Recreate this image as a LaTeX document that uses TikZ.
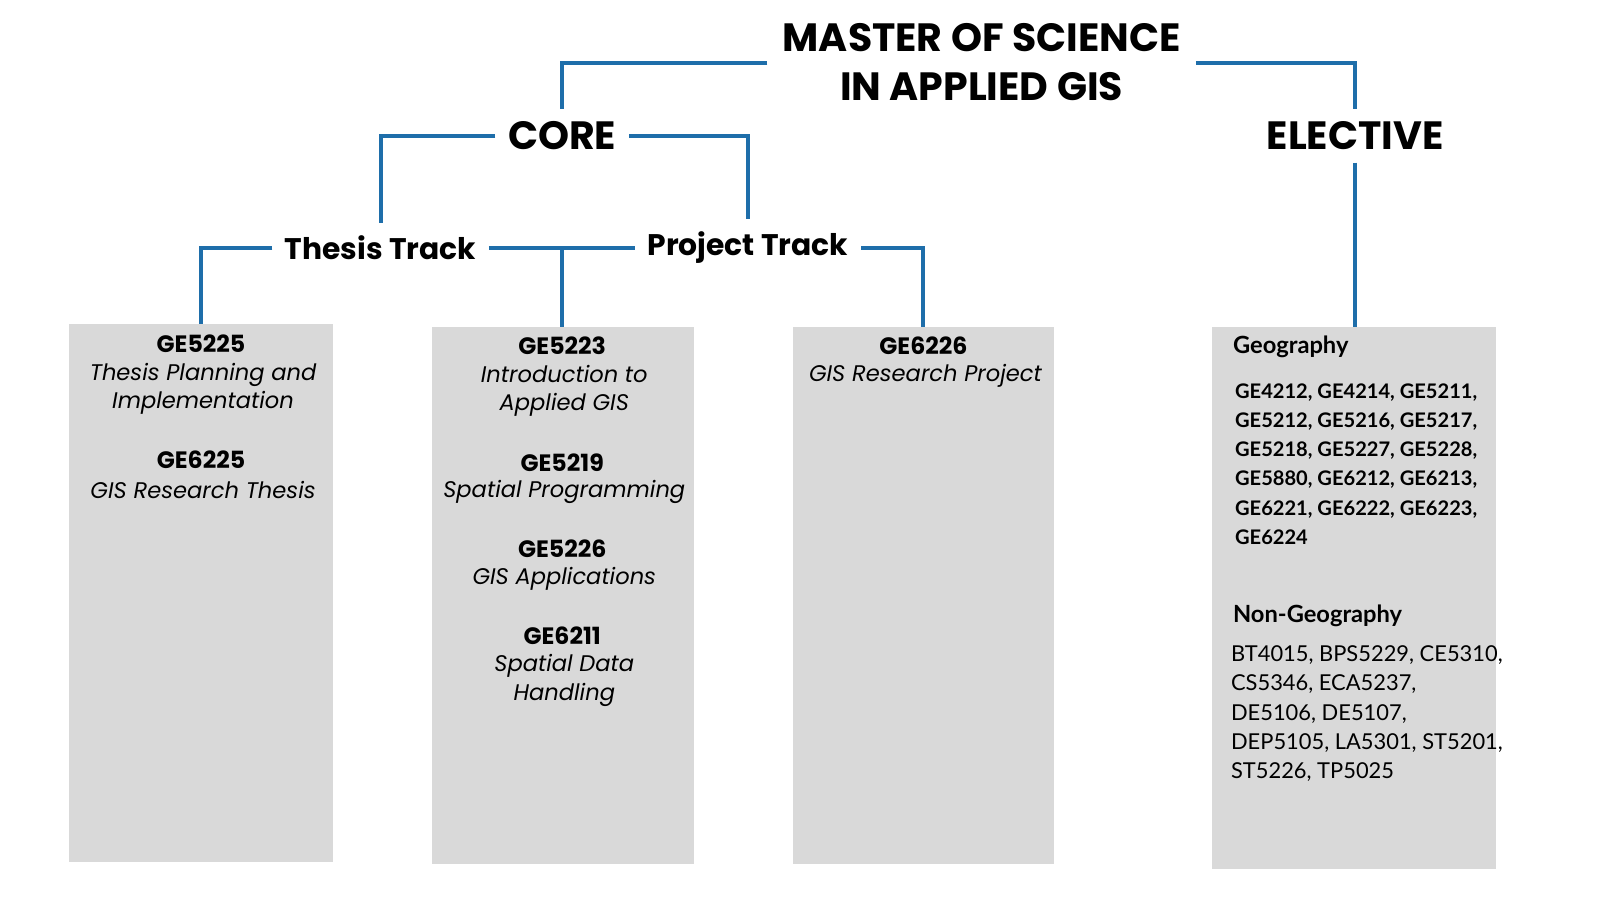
\documentclass[tikz,border=0pt]{standalone}
\usepackage{fontspec}
\setmainfont{Poppins}
\newfontfamily\gill{Lato}
\definecolor{lnk}{RGB}{30,110,170}
\definecolor{boxg}{RGB}{217,217,217}
\begin{document}
\begin{tikzpicture}[x=0.01cm,y=-0.01cm,
  ln/.style={draw=lnk,line width=1.1pt},
  bx/.style={fill=boxg,draw=none},
  hd/.style={font=\fontsize{11}{13.5}\selectfont\bfseries,align=center},
  tr/.style={font=\fontsize{8.3}{10}\selectfont\bfseries},
  cd/.style={font=\fontsize{6.6}{8}\selectfont\bfseries},
  nm/.style={font=\fontsize{6.3}{8}\selectfont\itshape,align=center},
  el/.style={align=left,anchor=north west}]
\useasboundingbox (0,0) rectangle (1568,882);
\fill[bx] (68,318) rectangle (326,845);
\fill[bx] (423,320) rectangle (680,847);
\fill[bx] (777,320) rectangle (1033,847);
\fill[bx] (1188,320) rectangle (1466,852);
\node[hd] (ms) at (962,61) {MASTER OF SCIENCE\\IN APPLIED GIS};
\node[hd] (core) at (551,133) {CORE};
\node[hd] (elec) at (1328,133) {ELECTIVE};
\node[tr] (thesis) at (373,243) {Thesis Track};
\node[tr] (proj) at (733,243) {Project Track};
\coordinate (tb) at (197,318);
\coordinate (cb) at (551,320);
\coordinate (pb) at (905,320);
\coordinate (eb) at (1328,320);
\draw[ln] (752,62) -| (core.north);
\draw[ln] (1172,62) -| (elec.north);
\draw[ln] (elec.south) -- (eb);
\draw[ln] (core.west) -| (thesis.north);
\draw[ln] (core.east) -| (proj.north);
\draw[ln] (thesis.west) -| (tb);
\draw[ln] (thesis.east) -- (proj.west);
\draw[ln] (551,243) -- (cb);
\draw[ln] (proj.east) -| (pb);
% thesis box
\node[cd] (t1) at (197,337) {GE5225};
\node[nm] (t1n) at (199,381) {Thesis Planning and\\Implementation};
\node[cd] (t2) at (197,451) {GE6225};
\node[nm] (t2n) at (199,480) {GIS Research Thesis};
% core box
\node[cd] (c1) at (551,339) {GE5223};
\node[nm] (c1n) at (553,383) {Introduction to\\Applied GIS};
\node[cd] (c2) at (551,453) {GE5219};
\node[nm] (c2n) at (553,482) {Spatial Programming};
\node[cd] (c3) at (551,538) {GE5226};
\node[nm] (c3n) at (553,567) {GIS Applications};
\node[cd] (c4) at (551,623) {GE6211};
\node[nm] (c4n) at (553,667) {Spatial Data\\Handling};
% project
\node[cd] (p1) at (905,339) {GE6226};
\node[nm] (p1n) at (907,368) {GIS Research Project};
% elective
\node[font=\gill\fontsize{6.6}{8}\selectfont\bfseries,anchor=west] (g) at (1196,340) {Geography};
\node[el,font=\gill\fontsize{5.6}{8.1}\selectfont\bfseries] (gl) at (1198,364) {GE4212, GE4214, GE5211,\\GE5212, GE5216, GE5217,\\GE5218, GE5227, GE5228,\\GE5880, GE6212, GE6213,\\GE6221, GE6222, GE6223,\\GE6224};
\node[font=\gill\fontsize{6.6}{8}\selectfont\bfseries,anchor=west] (ng) at (1196,604) {Non-Geography};
\node[el,font=\gill\fontsize{6.1}{8.2}\selectfont] (ngl) at (1194,620) {BT4015, BPS5229, CE5310,\\CS5346, ECA5237,\\DE5106, DE5107,\\DEP5105, LA5301, ST5201,\\ST5226, TP5025};
\end{tikzpicture}
\end{document}
